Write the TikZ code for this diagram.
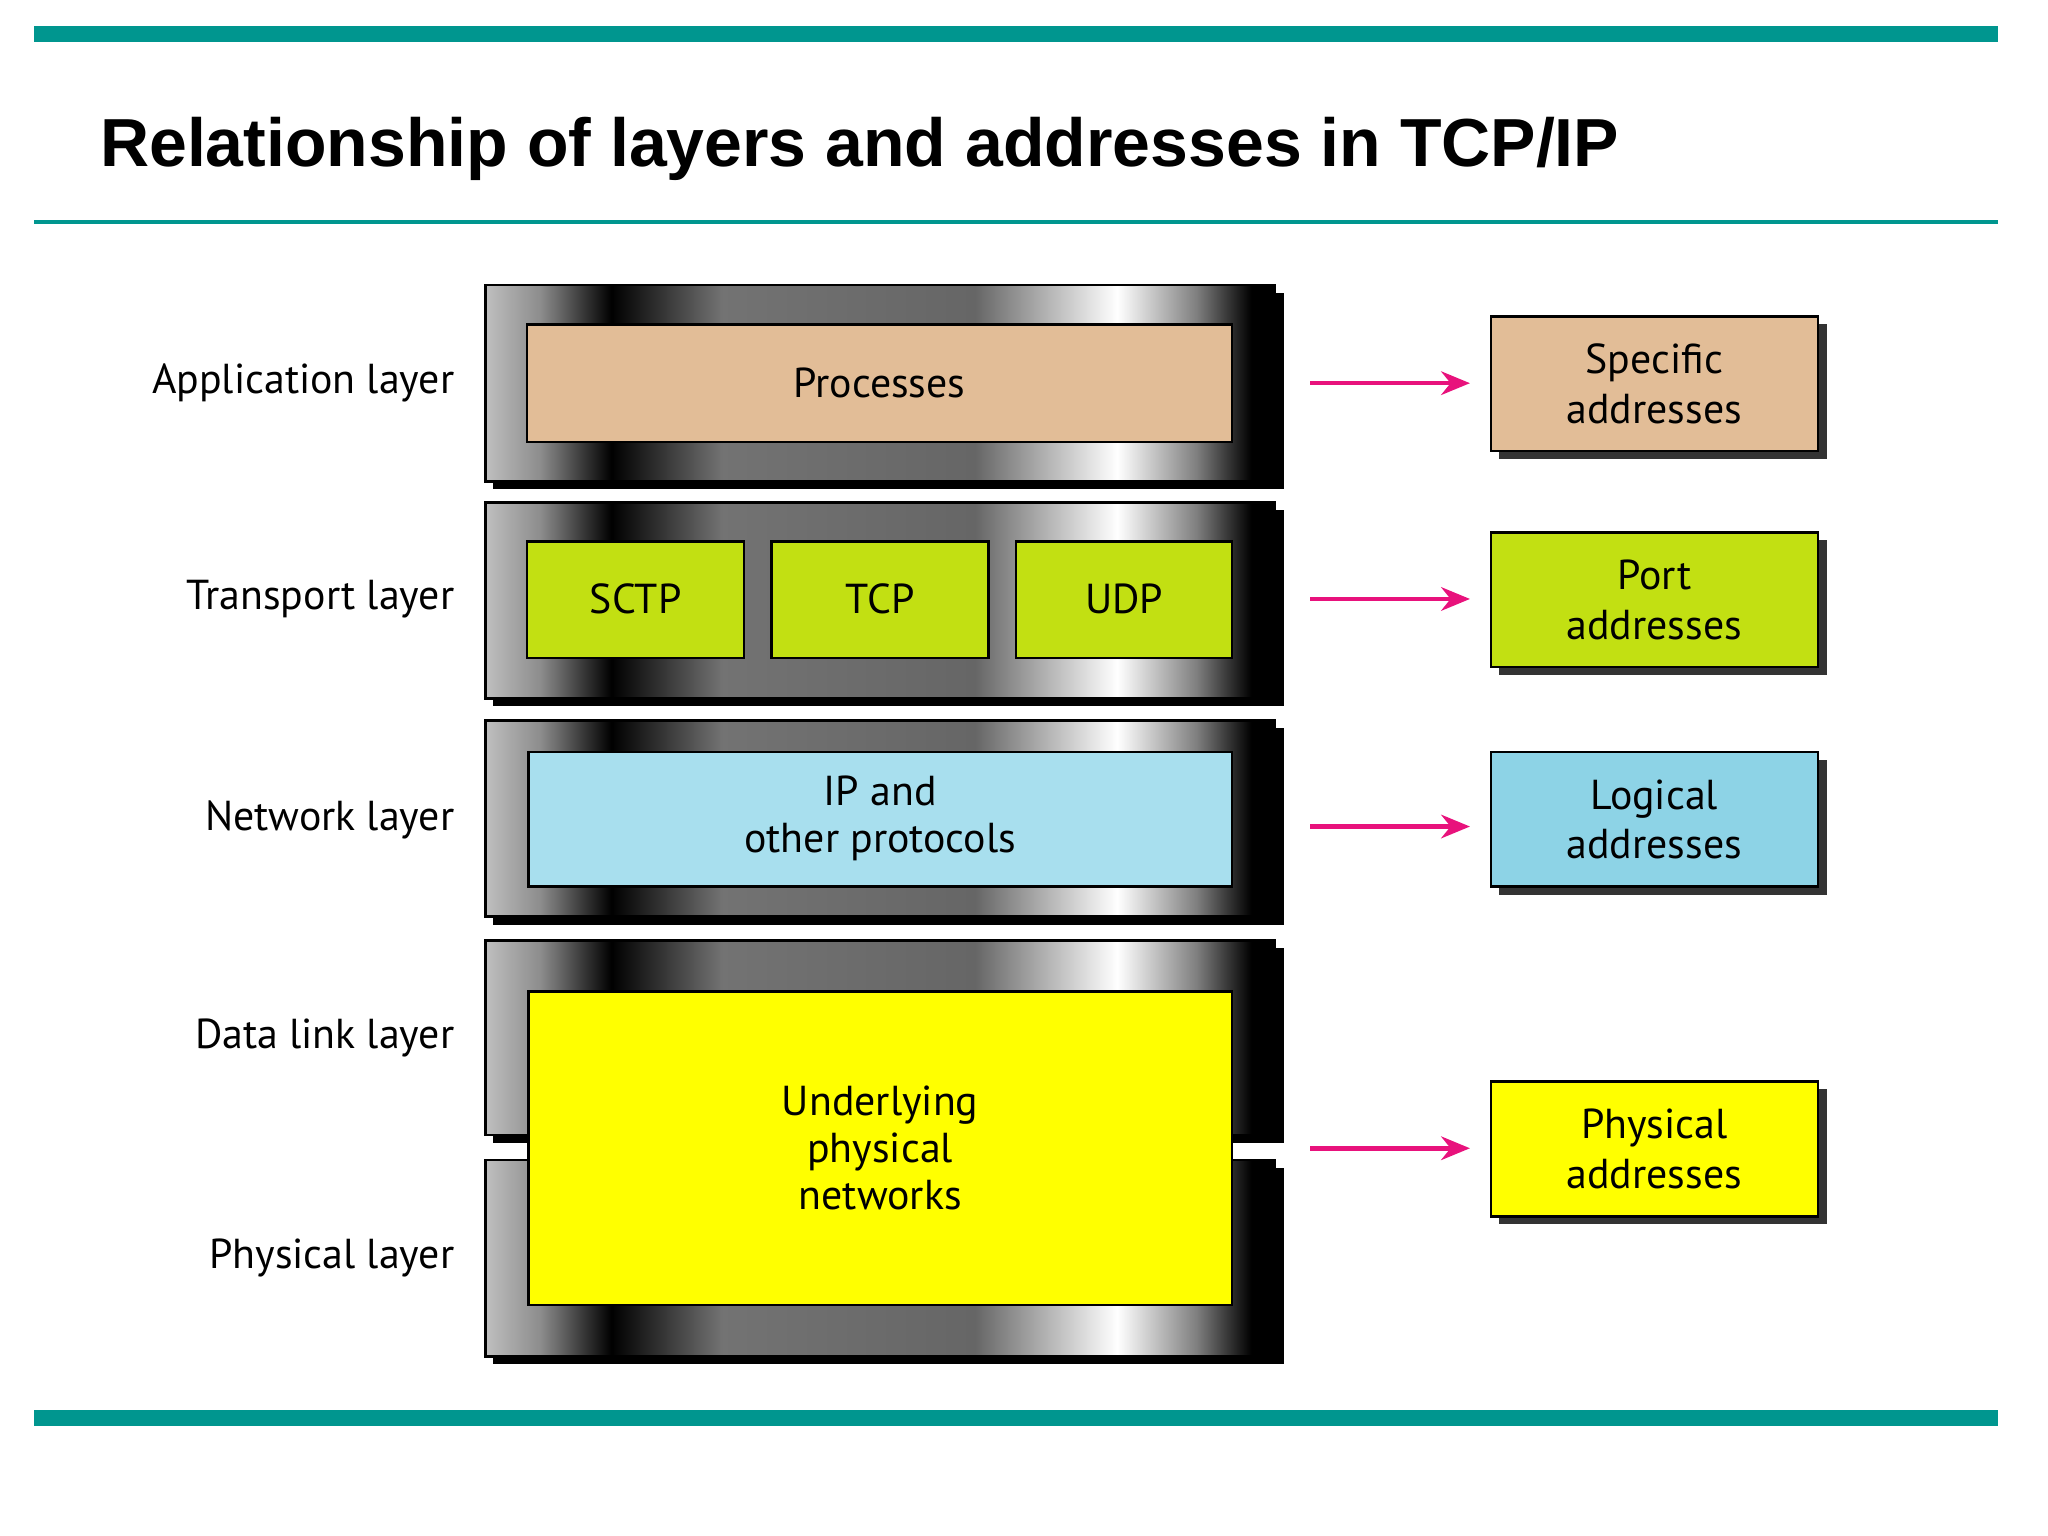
\documentclass[tikz,border=0pt]{standalone}
\usepackage{fontspec}
\setmainfont{PT Sans}
\newfontfamily\titlefont{Liberation Sans}
\usetikzlibrary{arrows.meta}
\definecolor{teal}{HTML}{00968F}
\definecolor{peach}{HTML}{E2BD97}
\definecolor{lime}{HTML}{C2E012}
\definecolor{sky}{HTML}{A8DFEE}
\definecolor{sky2}{HTML}{8DD3E6}
\definecolor{yel}{HTML}{FFFF00}
\definecolor{mag}{HTML}{E8127C}
% visible range is 25bp..75bp
\pgfdeclarehorizontalshading{frameshade}{100bp}{color(0bp)=(black!25); color(25bp)=(black!25); color(28.5bp)=(black!45); color(33bp)=(black); color(40bp)=(black!55); color(56bp)=(black!60); color(65bp)=(white); color(70bp)=(black!50); color(73.5bp)=(black); color(75bp)=(black); color(100bp)=(black)}
\begin{document}
\begin{tikzpicture}[x=1pt,y=-1pt,
  lbl/.style={font=\fontsize{32}{36}\selectfont},
  frame/.style={draw=black,line width=2pt,shading=frameshade},
  inner/.style={draw=black,line width=2pt},
  addr/.style={draw=black,line width=2pt,align=center,font=\fontsize{32}{38}\selectfont},
  arr/.style={draw=mag,line width=3.5pt,-{Stealth[length=22pt,width=18pt]}}]
\useasboundingbox (0,0) rectangle (1566,1174.5);
\fill[teal] (26,20) rectangle (1528,32);
\fill[teal] (26,168) rectangle (1528,171);
\fill[teal] (26,1078) rectangle (1528,1090);
\node[anchor=base west,font=\titlefont\bfseries\fontsize{52}{58}\selectfont] (title) at (73,127) {Relationship of layers and addresses in TCP/IP};
% frames
\foreach \t/\b in {218/368,384/534,551/701,719/868,887/1037}{
  \fill[black] (377,\t+6) rectangle (982,\b+6);
  \path[frame] (371,\t) rectangle (975,\b);
}
% inner
\path[inner,fill=peach] (403,248) rectangle (942,338);
\node[lbl] (proc) at (672.5,293) {Processes};
\path[inner,fill=lime] (403,414) rectangle (569,503);
\path[inner,fill=lime] (590,414) rectangle (756,503);
\path[inner,fill=lime] (777,414) rectangle (942,503);
\node[lbl] (sctp) at (486,458) {SCTP};
\node[lbl] (tcp) at (673,458) {TCP};
\node[lbl] (udp) at (859.5,458) {UDP};
\path[inner,fill=sky] (404,575) rectangle (942,678);
\node[lbl,align=center] (ip) at (673,626) {IP and\\other protocols};
\path[inner,fill=yel] (404,758) rectangle (942,998);
\node[lbl,align=center] (phys) at (673,878) {Underlying\\physical\\networks};
% labels
\node[lbl,anchor=east] (l1) at (351,293) {Application layer};
\node[lbl,anchor=east] (l2) at (351,458) {Transport layer};
\node[lbl,anchor=east] (l3) at (351,627) {Network layer};
\node[lbl,anchor=east] (l4) at (351,794) {Data link layer};
\node[lbl,anchor=east] (l5) at (351,962) {Physical layer};
% address boxes
\foreach \t/\c/\n/\txt in {242/peach/a1/Specific,407/lime/a2/Port,575/sky2/a3/Logical,827/yel/a4/Physical}{
  \fill[black!80] (1146,\t+6) rectangle (1397,\t+109);
  \node[addr,fill=\c,minimum width=250pt,minimum height=103pt] (\n) at (1265,\t+51.5) {\txt\\addresses};
}
\coordinate (s1) at (1002,293); \coordinate (e1) at (1124,293);
\coordinate (s2) at (1002,458); \coordinate (e2) at (1124,458);
\coordinate (s3) at (1002,632); \coordinate (e3) at (1124,632);
\coordinate (s4) at (1002,878); \coordinate (e4) at (1124,878);
\draw[arr] (s1) -- (e1);
\draw[arr] (s2) -- (e2);
\draw[arr] (s3) -- (e3);
\draw[arr] (s4) -- (e4);
\end{tikzpicture}
\end{document}
